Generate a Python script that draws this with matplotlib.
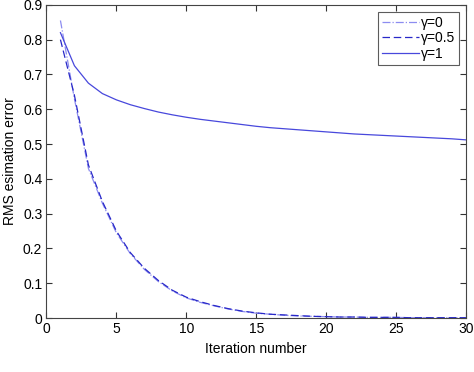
import matplotlib
matplotlib.use("Agg")
import matplotlib.pyplot as plt

plt.rcParams['font.family'] = ['Liberation Sans', 'DejaVu Sans']

iterations = list(range(1, 31))
rms_g0 = [0.855, 0.63, 0.43, 0.33, 0.245, 0.185, 0.14, 0.105, 0.078, 0.058,
          0.045, 0.035, 0.026, 0.019, 0.014, 0.011, 0.008, 0.006, 0.005, 0.004,
          0.003, 0.003, 0.002, 0.002, 0.002, 0.001, 0.001, 0.001, 0.001, 0.001]
rms_g05 = [0.80, 0.64, 0.44, 0.335, 0.25, 0.188, 0.143, 0.108, 0.08, 0.06,
           0.047, 0.036, 0.027, 0.02, 0.015, 0.011, 0.009, 0.007, 0.005, 0.004,
           0.003, 0.003, 0.002, 0.002, 0.002, 0.001, 0.001, 0.001, 0.001, 0.001]
rms_g1 = [0.82, 0.725, 0.675, 0.645, 0.627, 0.613, 0.602, 0.592, 0.584, 0.577,
          0.571, 0.566, 0.561, 0.556, 0.551, 0.547, 0.544, 0.541, 0.538, 0.535,
          0.532, 0.529, 0.527, 0.525, 0.523, 0.521, 0.519, 0.517, 0.515, 0.512]
labels = ['\u03b3=0', '\u03b3=0.5', '\u03b3=1']

fig = plt.figure(figsize=(4.74, 3.72), dpi=100)
ax = fig.add_axes([0.098, 0.145, 0.885, 0.842])
ax.plot(iterations, rms_g0, color='#8c8cf0', linestyle='-.', linewidth=0.9, label=labels[0])
ax.plot(iterations, rms_g05, color='#2828c8', linestyle=(0, (6, 3)), linewidth=0.9, label=labels[1])
ax.plot(iterations, rms_g1, color='#4848dc', linestyle='-', linewidth=0.9, label=labels[2])

ax.set_xlim(0, 30)
ax.set_ylim(0, 0.9)
ax.set_xticks(range(0, 31, 5))
ax.set_yticks([i / 10 for i in range(10)])
ax.set_yticklabels(['0'] + ['%.1f' % (i / 10) for i in range(1, 10)])
ax.tick_params(direction='in', top=True, right=True, labelsize=10, length=4, color='#333333', pad=3)
for s in ax.spines.values():
    s.set_color('#444444')
    s.set_linewidth(0.8)
ax.set_xlabel('Iteration number', fontsize=10, labelpad=4)
ax.set_ylabel('RMS esimation error', fontsize=10, labelpad=4)
leg = ax.legend(loc='upper right', fontsize=10, frameon=True, fancybox=False,
                edgecolor='#333333', handlelength=2.7, borderpad=0.3, labelspacing=0.1,
                handletextpad=0.1, borderaxespad=0.5)
leg.get_frame().set_linewidth(0.8)
fig.savefig('out.png', dpi=100)
